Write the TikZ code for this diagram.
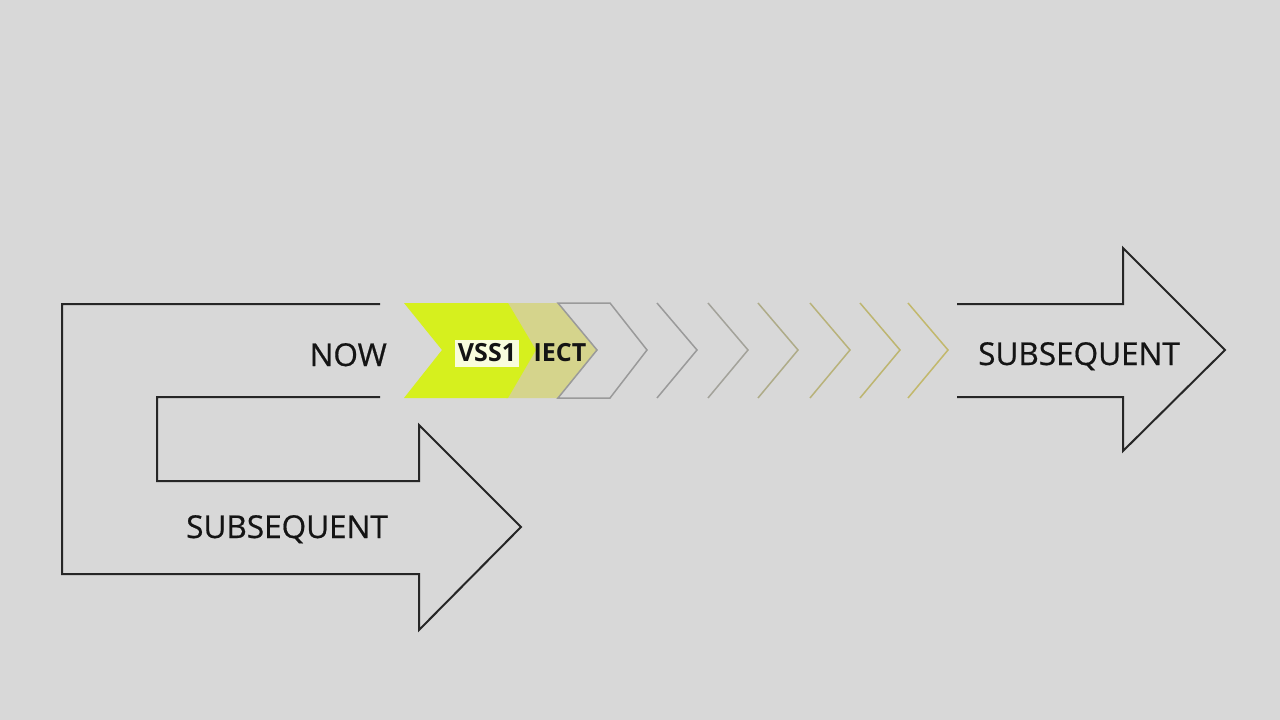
\documentclass[tikz,border=0pt]{standalone}
\usepackage{fontspec}
\setmainfont{Open Sans}
\newfontfamily\heavyfont[FakeBold=0.6]{Open Sans}
\definecolor{bgc}{HTML}{D8D8D8}
\definecolor{lime}{HTML}{D6F01E}
\definecolor{khaki}{HTML}{D5D48C}
\definecolor{chevgray}{HTML}{9A9A9A}
\definecolor{chevA}{HTML}{A3A29A}
\definecolor{chevB}{HTML}{AEAB88}
\definecolor{chevC}{HTML}{B8B27A}
\definecolor{chevD}{HTML}{BDB570}
\definecolor{chevE}{HTML}{C2B86C}
\definecolor{txt}{HTML}{141414}
\begin{document}
\begin{tikzpicture}[x=1pt,y=-1pt,line join=miter,
  outl/.style={draw=black!85,line width=2pt},
  vee/.style={line width=1.5pt},
  lbl/.style={font=\heavyfont\fontsize{31.5}{32}\selectfont,text=txt,inner sep=0pt},
  glitch/.style={font=\fontsize{25}{25}\selectfont\bfseries,text=txt,inner sep=0pt}]
\fill[bgc] (0,0) rectangle (1280,720);
\useasboundingbox (0,0) rectangle (1280,720);
% bent arrow
\draw[outl] (380,304) -- (62,304) -- (62,574) -- (419,574) -- (419,630) -- (521,527) -- (419,425) -- (419,481) -- (157,481) -- (157,397) -- (380,397);
% right arrow
\draw[outl] (957,304) -- (1123,304) -- (1123,248) -- (1225,350) -- (1123,451) -- (1123,397) -- (957,397);
% filled chevrons
\fill[khaki] (506,303) -- (558,303) -- (597,350) -- (558,398) -- (506,398) -- (536,350) -- cycle;
\fill[lime] (404,303) -- (508,303) -- (536,350) -- (508,398) -- (404,398) -- (442,350) -- cycle;
\draw[chevgray,line width=1.5pt] (558,303) -- (610,303) -- (647,350) -- (610,398) -- (558,398) -- (597,350) -- cycle;
% open chevrons
\draw[vee,chevgray] (657,303) -- (697,350) -- (657,398);
\draw[vee,chevA] (708,303) -- (748,350) -- (708,398);
\draw[vee,chevB] (758,303) -- (798,350) -- (758,398);
\draw[vee,chevC] (810,303) -- (850,350) -- (810,398);
\draw[vee,chevD] (860,303) -- (900,350) -- (860,398);
\draw[vee,chevE] (908,303) -- (948,350) -- (908,398);
% labels
\node[lbl,anchor=base east] (now) at (387,366) {NOW};
\node[lbl,anchor=base east] (subL) at (388,538) {SUBSEQUENT};
\node[lbl,anchor=base west] (subR) at (978,365) {SUBSEQUENT};
\fill[white!85!lime] (455,340) rectangle (519,367);
\node[glitch,anchor=center] (g1) at (487,353) {VSS1};
\node[glitch,anchor=center] (g2) at (560,353) {IECT};
\end{tikzpicture}
\end{document}
